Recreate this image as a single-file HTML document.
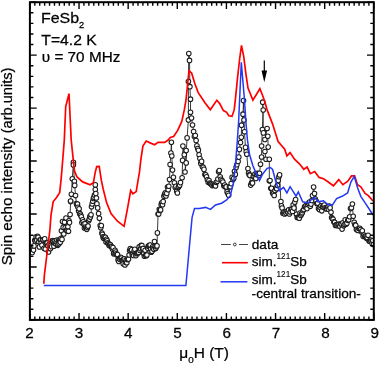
<!DOCTYPE html>
<html><head><meta charset="utf-8"><title>FeSb2 spin echo</title><style>html,body{margin:0;padding:0;background:#fff}body{width:379px;height:365px;overflow:hidden}</style></head><body>
<svg width="379" height="365" viewBox="0 0 379 365" style="display:block">
<rect width="379" height="365" fill="#fff"/>
<defs><clipPath id="cp"><rect x="29.9" y="2.2" width="343.90000000000003" height="317.7"/></clipPath></defs>
<g clip-path="url(#cp)">
<polyline points="30.8,247.5 31.5,247.2 32.2,252.6 32.9,248.9 33.5,250.1 34.0,245.9 34.7,240.3 35.4,241.1 36.1,236.7 36.8,240.3 37.5,236.2 38.1,237.2 38.8,241.7 39.4,246.9 40.0,239.8 40.6,239.7 41.2,242.9 41.9,245.3 42.5,239.9 43.2,239.8 44.0,248.3 44.7,238.9 45.3,249.0 46.0,243.6 46.6,242.6 47.2,243.0 47.9,245.7 48.5,252.0 49.2,244.4 49.8,248.4 50.5,248.6 51.0,245.2 51.6,246.7 52.2,240.9 52.7,240.5 53.3,241.5 53.9,246.2 54.4,242.8 55.0,240.9 55.6,243.7 56.3,242.0 57.0,240.0 57.6,245.3 58.1,244.4 58.7,240.3 59.2,243.6 59.8,240.9 60.3,242.2 60.9,238.6 61.4,230.7 62.0,239.4 62.5,221.5 63.2,227.4 63.8,234.0 64.5,222.2 65.2,227.8 66.0,218.0 66.6,229.7 67.2,230.8 67.9,226.8 68.5,231.3 69.0,220.7 69.5,222.6 70.1,214.5 70.6,201.6 70.6,201.0 71.4,194.2 72.3,178.8 73.4,162.4 73.4,164.9 74.4,181.3 74.7,185.4 75.5,195.5 76.4,203.5 76.9,204.9 77.5,204.0 78.0,207.2 78.6,211.1 79.1,208.8 79.7,213.7 80.2,213.7 80.8,215.3 81.3,216.8 81.9,222.7 82.5,219.8 83.2,221.8 83.8,224.0 84.4,228.1 85.0,223.7 85.6,227.1 86.2,228.6 86.8,229.3 87.5,227.4 88.1,226.1 88.7,220.7 89.3,219.2 89.9,216.4 90.4,217.1 91.0,214.8 91.5,206.7 92.2,203.9 92.8,201.2 93.4,198.4 93.9,197.2 94.5,195.1 95.3,184.9 95.3,189.5 95.8,193.6 96.4,198.0 96.9,203.9 97.7,207.9 98.6,213.6 99.4,218.2 100.2,225.5 100.8,227.8 101.3,225.6 101.9,233.0 102.4,234.2 103.0,236.7 103.5,238.2 104.1,236.7 104.8,238.0 105.4,237.3 106.0,242.0 106.6,239.4 107.2,240.7 107.8,242.9 108.4,243.8 109.1,245.6 109.7,244.4 110.4,244.7 111.0,246.3 111.7,246.7 112.4,249.1 113.0,247.5 113.7,253.8 114.3,252.7 115.0,250.3 115.6,252.1 116.2,253.8 116.9,255.0 117.5,254.5 118.1,259.9 118.8,261.5 119.4,258.7 120.1,259.4 120.7,257.4 121.4,258.1 122.0,260.4 122.6,260.0 123.2,263.8 123.8,259.5 124.4,258.7 125.0,265.0 125.6,262.3 126.2,259.9 126.8,262.7 127.4,259.4 128.0,259.4 128.5,259.1 129.1,255.0 129.6,250.6 130.3,248.6 130.9,250.2 131.6,249.7 132.2,254.6 132.9,254.0 133.5,255.5 134.2,250.9 134.8,249.2 135.4,254.3 136.0,255.6 136.7,253.7 137.3,252.7 138.0,253.1 138.6,252.4 139.2,246.9 139.9,250.4 140.6,248.8 141.2,245.3 141.9,245.6 142.5,248.6 143.2,248.6 143.8,253.7 144.4,256.3 145.1,250.3 145.7,255.5 146.3,255.7 146.9,255.0 147.6,248.1 148.2,246.2 148.8,245.9 149.5,245.3 150.1,245.0 150.7,249.4 151.3,252.2 152.0,251.2 152.6,246.9 153.2,248.3 153.9,249.3 154.5,241.5 155.1,246.8 155.7,248.5 156.4,246.8 157.0,245.9 157.4,232.9 158.1,214.0 158.7,214.0 159.3,209.2 159.9,210.4 160.6,209.9 161.2,204.4 161.8,202.8 162.5,204.7 163.2,201.6 163.9,196.3 164.6,194.4 165.3,192.9 166.0,195.9 166.8,193.4 167.5,187.1 168.2,189.7 168.8,186.2 169.5,179.5 170.1,164.5 170.9,153.0 171.4,142.3 171.8,156.0 172.5,170.0 173.4,177.3 174.4,182.8 175.2,187.5 175.9,186.3 176.7,191.2 177.4,193.0 178.2,187.5 178.9,186.4 179.7,185.3 180.5,182.6 182.1,177.7 182.6,160.4 182.9,146.1 184.3,154.7 186.2,150.5 186.2,162.9 185.0,172.0 187.1,137.9 188.4,119.9 188.4,81.6 188.8,53.6 189.5,60.4 189.9,86.7 190.5,99.2 190.5,112.3 191.5,118.0 192.5,125.0 193.6,131.6 194.4,136.6 195.3,135.5 196.1,140.5 196.9,145.9 197.7,148.5 198.4,150.3 199.1,154.8 199.9,158.5 200.8,163.4 201.6,161.4 202.4,166.8 203.2,167.2 204.0,169.4 204.9,174.6 205.7,174.8 206.5,176.7 207.4,179.7 208.2,182.3 209.0,180.6 209.8,183.1 210.6,183.7 211.4,184.1 212.2,185.6 213.1,184.3 213.9,185.2 214.7,185.2 215.5,186.0 216.4,182.3 217.2,181.3 217.9,179.0 218.6,171.7 219.3,170.5 220.2,176.7 221.0,179.3 222.1,180.5 222.9,182.0 223.8,185.8 224.6,185.0 225.4,187.1 226.2,186.9 227.1,191.9 227.9,193.6 228.7,195.3 229.5,186.7 230.3,186.7 231.2,183.6 232.1,177.4 233.0,179.5 233.8,178.2 234.5,171.4 235.3,174.4 236.1,167.4 236.9,164.7 238.1,161.4 238.8,157.1 239.4,149.4 240.5,142.5 241.3,137.3 241.5,125.2 243.0,114.2 243.5,100.6 244.0,120.0 244.5,131.8 245.5,147.4 246.2,151.8 246.8,154.2 247.9,168.6 248.6,173.0 249.2,174.8 249.9,175.4 250.7,185.1 251.6,182.9 252.5,183.1 253.3,176.4 254.2,176.5 255.0,174.0 255.8,178.4 256.5,174.6 257.3,173.2 258.0,173.6 258.8,175.4 259.5,173.3 260.5,164.2 261.6,157.0 261.6,146.0 262.4,129.6 263.2,110.0 262.7,102.2 263.4,132.9 267.1,128.5 264.9,139.5 267.8,136.2 268.2,147.1 264.9,151.5 266.0,159.2 269.3,159.2 269.3,180.8 270.0,180.5 270.8,188.3 271.5,188.2 272.6,192.9 273.4,193.7 274.2,195.5 275.0,190.5 275.8,187.9 276.7,188.8 277.5,185.3 278.2,180.4 278.9,176.7 279.6,174.9 280.9,201.6 281.4,205.9 282.1,208.0 282.9,213.2 283.6,212.3 284.5,213.9 285.3,212.0 286.1,213.3 287.0,211.3 287.8,212.2 288.6,209.9 289.4,213.9 290.2,212.0 291.0,209.0 291.8,209.6 292.5,211.4 293.2,204.7 294.0,208.1 294.8,202.3 295.6,199.5 296.5,214.2 297.2,217.5 297.9,217.2 298.6,217.3 299.3,218.2 300.0,213.0 300.8,215.5 301.5,214.0 302.3,212.8 303.0,210.6 303.8,209.5 304.6,206.7 305.4,206.3 306.2,205.0 307.0,208.6 307.8,204.6 308.6,203.3 309.5,202.0 310.3,206.3 311.0,204.1 311.8,200.5 312.5,195.6 313.6,187.1 314.5,193.6 315.2,198.7 316.0,200.7 316.8,203.5 317.7,203.2 318.5,208.6 319.4,209.6 320.2,207.6 321.0,205.8 321.8,210.8 322.6,206.6 323.4,207.2 324.2,205.0 325.0,207.7 325.9,208.5 326.7,208.9 327.6,207.0 328.4,209.2 329.2,206.1 330.1,207.9 331.0,212.3 331.6,217.6 332.3,218.5 333.1,219.2 333.9,221.9 334.7,222.2 335.5,225.4 336.4,224.5 337.2,225.6 338.1,224.5 339.0,224.4 339.8,226.2 340.6,223.7 341.3,224.0 342.1,229.1 342.9,222.8 343.7,225.8 344.4,224.5 345.2,219.8 346.0,224.2 346.9,223.3 347.8,220.3 348.7,219.7 349.6,216.7 350.5,208.6 351.4,207.7 352.4,204.0 353.2,216.2 354.2,222.4 354.9,224.8 355.7,225.4 356.4,229.6 357.2,229.3 358.0,230.5 358.9,228.5 359.7,228.3 360.6,229.6 361.4,231.8 362.3,230.8 363.1,236.3 364.0,235.1 364.8,236.3 365.6,237.1 366.5,238.3 367.3,237.8 368.1,235.2 369.0,241.0 369.8,241.2 370.6,240.1 371.3,241.4 372.1,243.4 372.8,240.5 373.5,244.5" fill="none" stroke="#222" stroke-width="0.9" stroke-linejoin="round"/>
<g fill="#fff" stroke="#1c1c1c" stroke-width="1.05">
<circle cx="30.8" cy="247.5" r="2.3"/>
<circle cx="31.5" cy="247.2" r="2.3"/>
<circle cx="32.2" cy="252.6" r="2.3"/>
<circle cx="32.9" cy="248.9" r="2.3"/>
<circle cx="33.5" cy="250.1" r="2.3"/>
<circle cx="34.0" cy="245.9" r="2.3"/>
<circle cx="34.7" cy="240.3" r="2.3"/>
<circle cx="35.4" cy="241.1" r="2.3"/>
<circle cx="36.1" cy="236.7" r="2.3"/>
<circle cx="36.8" cy="240.3" r="2.3"/>
<circle cx="37.5" cy="236.2" r="2.3"/>
<circle cx="38.1" cy="237.2" r="2.3"/>
<circle cx="38.8" cy="241.7" r="2.3"/>
<circle cx="39.4" cy="246.9" r="2.3"/>
<circle cx="40.0" cy="239.8" r="2.3"/>
<circle cx="40.6" cy="239.7" r="2.3"/>
<circle cx="41.2" cy="242.9" r="2.3"/>
<circle cx="41.9" cy="245.3" r="2.3"/>
<circle cx="42.5" cy="239.9" r="2.3"/>
<circle cx="43.2" cy="239.8" r="2.3"/>
<circle cx="44.0" cy="248.3" r="2.3"/>
<circle cx="44.7" cy="238.9" r="2.3"/>
<circle cx="45.3" cy="249.0" r="2.3"/>
<circle cx="46.0" cy="243.6" r="2.3"/>
<circle cx="46.6" cy="242.6" r="2.3"/>
<circle cx="47.2" cy="243.0" r="2.3"/>
<circle cx="47.9" cy="245.7" r="2.3"/>
<circle cx="48.5" cy="252.0" r="2.3"/>
<circle cx="49.2" cy="244.4" r="2.3"/>
<circle cx="49.8" cy="248.4" r="2.3"/>
<circle cx="50.5" cy="248.6" r="2.3"/>
<circle cx="51.0" cy="245.2" r="2.3"/>
<circle cx="51.6" cy="246.7" r="2.3"/>
<circle cx="52.2" cy="240.9" r="2.3"/>
<circle cx="52.7" cy="240.5" r="2.3"/>
<circle cx="53.3" cy="241.5" r="2.3"/>
<circle cx="53.9" cy="246.2" r="2.3"/>
<circle cx="54.4" cy="242.8" r="2.3"/>
<circle cx="55.0" cy="240.9" r="2.3"/>
<circle cx="55.6" cy="243.7" r="2.3"/>
<circle cx="56.3" cy="242.0" r="2.3"/>
<circle cx="57.0" cy="240.0" r="2.3"/>
<circle cx="57.6" cy="245.3" r="2.3"/>
<circle cx="58.1" cy="244.4" r="2.3"/>
<circle cx="58.7" cy="240.3" r="2.3"/>
<circle cx="59.2" cy="243.6" r="2.3"/>
<circle cx="59.8" cy="240.9" r="2.3"/>
<circle cx="60.3" cy="242.2" r="2.3"/>
<circle cx="60.9" cy="238.6" r="2.3"/>
<circle cx="61.4" cy="230.7" r="2.3"/>
<circle cx="62.0" cy="239.4" r="2.3"/>
<circle cx="62.5" cy="221.5" r="2.3"/>
<circle cx="63.2" cy="227.4" r="2.3"/>
<circle cx="63.8" cy="234.0" r="2.3"/>
<circle cx="64.5" cy="222.2" r="2.3"/>
<circle cx="65.2" cy="227.8" r="2.3"/>
<circle cx="66.0" cy="218.0" r="2.3"/>
<circle cx="66.6" cy="229.7" r="2.3"/>
<circle cx="67.2" cy="230.8" r="2.3"/>
<circle cx="67.9" cy="226.8" r="2.3"/>
<circle cx="68.5" cy="231.3" r="2.3"/>
<circle cx="69.0" cy="220.7" r="2.3"/>
<circle cx="69.5" cy="222.6" r="2.3"/>
<circle cx="70.1" cy="214.5" r="2.3"/>
<circle cx="70.6" cy="201.6" r="2.3"/>
<circle cx="70.6" cy="201.0" r="2.3"/>
<circle cx="71.4" cy="194.2" r="2.3"/>
<circle cx="72.3" cy="178.8" r="2.3"/>
<circle cx="73.4" cy="162.4" r="2.3"/>
<circle cx="73.4" cy="164.9" r="2.3"/>
<circle cx="74.4" cy="181.3" r="2.3"/>
<circle cx="74.7" cy="185.4" r="2.3"/>
<circle cx="75.5" cy="195.5" r="2.3"/>
<circle cx="76.4" cy="203.5" r="2.3"/>
<circle cx="76.9" cy="204.9" r="2.3"/>
<circle cx="77.5" cy="204.0" r="2.3"/>
<circle cx="78.0" cy="207.2" r="2.3"/>
<circle cx="78.6" cy="211.1" r="2.3"/>
<circle cx="79.1" cy="208.8" r="2.3"/>
<circle cx="79.7" cy="213.7" r="2.3"/>
<circle cx="80.2" cy="213.7" r="2.3"/>
<circle cx="80.8" cy="215.3" r="2.3"/>
<circle cx="81.3" cy="216.8" r="2.3"/>
<circle cx="81.9" cy="222.7" r="2.3"/>
<circle cx="82.5" cy="219.8" r="2.3"/>
<circle cx="83.2" cy="221.8" r="2.3"/>
<circle cx="83.8" cy="224.0" r="2.3"/>
<circle cx="84.4" cy="228.1" r="2.3"/>
<circle cx="85.0" cy="223.7" r="2.3"/>
<circle cx="85.6" cy="227.1" r="2.3"/>
<circle cx="86.2" cy="228.6" r="2.3"/>
<circle cx="86.8" cy="229.3" r="2.3"/>
<circle cx="87.5" cy="227.4" r="2.3"/>
<circle cx="88.1" cy="226.1" r="2.3"/>
<circle cx="88.7" cy="220.7" r="2.3"/>
<circle cx="89.3" cy="219.2" r="2.3"/>
<circle cx="89.9" cy="216.4" r="2.3"/>
<circle cx="90.4" cy="217.1" r="2.3"/>
<circle cx="91.0" cy="214.8" r="2.3"/>
<circle cx="91.5" cy="206.7" r="2.3"/>
<circle cx="92.2" cy="203.9" r="2.3"/>
<circle cx="92.8" cy="201.2" r="2.3"/>
<circle cx="93.4" cy="198.4" r="2.3"/>
<circle cx="93.9" cy="197.2" r="2.3"/>
<circle cx="94.5" cy="195.1" r="2.3"/>
<circle cx="95.3" cy="184.9" r="2.3"/>
<circle cx="95.3" cy="189.5" r="2.3"/>
<circle cx="95.8" cy="193.6" r="2.3"/>
<circle cx="96.4" cy="198.0" r="2.3"/>
<circle cx="96.9" cy="203.9" r="2.3"/>
<circle cx="97.7" cy="207.9" r="2.3"/>
<circle cx="98.6" cy="213.6" r="2.3"/>
<circle cx="99.4" cy="218.2" r="2.3"/>
<circle cx="100.2" cy="225.5" r="2.3"/>
<circle cx="100.8" cy="227.8" r="2.3"/>
<circle cx="101.3" cy="225.6" r="2.3"/>
<circle cx="101.9" cy="233.0" r="2.3"/>
<circle cx="102.4" cy="234.2" r="2.3"/>
<circle cx="103.0" cy="236.7" r="2.3"/>
<circle cx="103.5" cy="238.2" r="2.3"/>
<circle cx="104.1" cy="236.7" r="2.3"/>
<circle cx="104.8" cy="238.0" r="2.3"/>
<circle cx="105.4" cy="237.3" r="2.3"/>
<circle cx="106.0" cy="242.0" r="2.3"/>
<circle cx="106.6" cy="239.4" r="2.3"/>
<circle cx="107.2" cy="240.7" r="2.3"/>
<circle cx="107.8" cy="242.9" r="2.3"/>
<circle cx="108.4" cy="243.8" r="2.3"/>
<circle cx="109.1" cy="245.6" r="2.3"/>
<circle cx="109.7" cy="244.4" r="2.3"/>
<circle cx="110.4" cy="244.7" r="2.3"/>
<circle cx="111.0" cy="246.3" r="2.3"/>
<circle cx="111.7" cy="246.7" r="2.3"/>
<circle cx="112.4" cy="249.1" r="2.3"/>
<circle cx="113.0" cy="247.5" r="2.3"/>
<circle cx="113.7" cy="253.8" r="2.3"/>
<circle cx="114.3" cy="252.7" r="2.3"/>
<circle cx="115.0" cy="250.3" r="2.3"/>
<circle cx="115.6" cy="252.1" r="2.3"/>
<circle cx="116.2" cy="253.8" r="2.3"/>
<circle cx="116.9" cy="255.0" r="2.3"/>
<circle cx="117.5" cy="254.5" r="2.3"/>
<circle cx="118.1" cy="259.9" r="2.3"/>
<circle cx="118.8" cy="261.5" r="2.3"/>
<circle cx="119.4" cy="258.7" r="2.3"/>
<circle cx="120.1" cy="259.4" r="2.3"/>
<circle cx="120.7" cy="257.4" r="2.3"/>
<circle cx="121.4" cy="258.1" r="2.3"/>
<circle cx="122.0" cy="260.4" r="2.3"/>
<circle cx="122.6" cy="260.0" r="2.3"/>
<circle cx="123.2" cy="263.8" r="2.3"/>
<circle cx="123.8" cy="259.5" r="2.3"/>
<circle cx="124.4" cy="258.7" r="2.3"/>
<circle cx="125.0" cy="265.0" r="2.3"/>
<circle cx="125.6" cy="262.3" r="2.3"/>
<circle cx="126.2" cy="259.9" r="2.3"/>
<circle cx="126.8" cy="262.7" r="2.3"/>
<circle cx="127.4" cy="259.4" r="2.3"/>
<circle cx="128.0" cy="259.4" r="2.3"/>
<circle cx="128.5" cy="259.1" r="2.3"/>
<circle cx="129.1" cy="255.0" r="2.3"/>
<circle cx="129.6" cy="250.6" r="2.3"/>
<circle cx="130.3" cy="248.6" r="2.3"/>
<circle cx="130.9" cy="250.2" r="2.3"/>
<circle cx="131.6" cy="249.7" r="2.3"/>
<circle cx="132.2" cy="254.6" r="2.3"/>
<circle cx="132.9" cy="254.0" r="2.3"/>
<circle cx="133.5" cy="255.5" r="2.3"/>
<circle cx="134.2" cy="250.9" r="2.3"/>
<circle cx="134.8" cy="249.2" r="2.3"/>
<circle cx="135.4" cy="254.3" r="2.3"/>
<circle cx="136.0" cy="255.6" r="2.3"/>
<circle cx="136.7" cy="253.7" r="2.3"/>
<circle cx="137.3" cy="252.7" r="2.3"/>
<circle cx="138.0" cy="253.1" r="2.3"/>
<circle cx="138.6" cy="252.4" r="2.3"/>
<circle cx="139.2" cy="246.9" r="2.3"/>
<circle cx="139.9" cy="250.4" r="2.3"/>
<circle cx="140.6" cy="248.8" r="2.3"/>
<circle cx="141.2" cy="245.3" r="2.3"/>
<circle cx="141.9" cy="245.6" r="2.3"/>
<circle cx="142.5" cy="248.6" r="2.3"/>
<circle cx="143.2" cy="248.6" r="2.3"/>
<circle cx="143.8" cy="253.7" r="2.3"/>
<circle cx="144.4" cy="256.3" r="2.3"/>
<circle cx="145.1" cy="250.3" r="2.3"/>
<circle cx="145.7" cy="255.5" r="2.3"/>
<circle cx="146.3" cy="255.7" r="2.3"/>
<circle cx="146.9" cy="255.0" r="2.3"/>
<circle cx="147.6" cy="248.1" r="2.3"/>
<circle cx="148.2" cy="246.2" r="2.3"/>
<circle cx="148.8" cy="245.9" r="2.3"/>
<circle cx="149.5" cy="245.3" r="2.3"/>
<circle cx="150.1" cy="245.0" r="2.3"/>
<circle cx="150.7" cy="249.4" r="2.3"/>
<circle cx="151.3" cy="252.2" r="2.3"/>
<circle cx="152.0" cy="251.2" r="2.3"/>
<circle cx="152.6" cy="246.9" r="2.3"/>
<circle cx="153.2" cy="248.3" r="2.3"/>
<circle cx="153.9" cy="249.3" r="2.3"/>
<circle cx="154.5" cy="241.5" r="2.3"/>
<circle cx="155.1" cy="246.8" r="2.3"/>
<circle cx="155.7" cy="248.5" r="2.3"/>
<circle cx="156.4" cy="246.8" r="2.3"/>
<circle cx="157.0" cy="245.9" r="2.3"/>
<circle cx="157.4" cy="232.9" r="2.3"/>
<circle cx="158.1" cy="214.0" r="2.3"/>
<circle cx="158.7" cy="214.0" r="2.3"/>
<circle cx="159.3" cy="209.2" r="2.3"/>
<circle cx="159.9" cy="210.4" r="2.3"/>
<circle cx="160.6" cy="209.9" r="2.3"/>
<circle cx="161.2" cy="204.4" r="2.3"/>
<circle cx="161.8" cy="202.8" r="2.3"/>
<circle cx="162.5" cy="204.7" r="2.3"/>
<circle cx="163.2" cy="201.6" r="2.3"/>
<circle cx="163.9" cy="196.3" r="2.3"/>
<circle cx="164.6" cy="194.4" r="2.3"/>
<circle cx="165.3" cy="192.9" r="2.3"/>
<circle cx="166.0" cy="195.9" r="2.3"/>
<circle cx="166.8" cy="193.4" r="2.3"/>
<circle cx="167.5" cy="187.1" r="2.3"/>
<circle cx="168.2" cy="189.7" r="2.3"/>
<circle cx="168.8" cy="186.2" r="2.3"/>
<circle cx="169.5" cy="179.5" r="2.3"/>
<circle cx="170.1" cy="164.5" r="2.3"/>
<circle cx="170.9" cy="153.0" r="2.3"/>
<circle cx="171.4" cy="142.3" r="2.3"/>
<circle cx="171.8" cy="156.0" r="2.3"/>
<circle cx="172.5" cy="170.0" r="2.3"/>
<circle cx="173.4" cy="177.3" r="2.3"/>
<circle cx="174.4" cy="182.8" r="2.3"/>
<circle cx="175.2" cy="187.5" r="2.3"/>
<circle cx="175.9" cy="186.3" r="2.3"/>
<circle cx="176.7" cy="191.2" r="2.3"/>
<circle cx="177.4" cy="193.0" r="2.3"/>
<circle cx="178.2" cy="187.5" r="2.3"/>
<circle cx="178.9" cy="186.4" r="2.3"/>
<circle cx="179.7" cy="185.3" r="2.3"/>
<circle cx="180.5" cy="182.6" r="2.3"/>
<circle cx="182.1" cy="177.7" r="2.3"/>
<circle cx="182.6" cy="160.4" r="2.3"/>
<circle cx="182.9" cy="146.1" r="2.3"/>
<circle cx="184.3" cy="154.7" r="2.3"/>
<circle cx="186.2" cy="150.5" r="2.3"/>
<circle cx="186.2" cy="162.9" r="2.3"/>
<circle cx="185.0" cy="172.0" r="2.3"/>
<circle cx="187.1" cy="137.9" r="2.3"/>
<circle cx="188.4" cy="119.9" r="2.3"/>
<circle cx="188.4" cy="81.6" r="2.3"/>
<circle cx="188.8" cy="53.6" r="2.3"/>
<circle cx="189.5" cy="60.4" r="2.3"/>
<circle cx="189.9" cy="86.7" r="2.3"/>
<circle cx="190.5" cy="99.2" r="2.3"/>
<circle cx="190.5" cy="112.3" r="2.3"/>
<circle cx="191.5" cy="118.0" r="2.3"/>
<circle cx="192.5" cy="125.0" r="2.3"/>
<circle cx="193.6" cy="131.6" r="2.3"/>
<circle cx="194.4" cy="136.6" r="2.3"/>
<circle cx="195.3" cy="135.5" r="2.3"/>
<circle cx="196.1" cy="140.5" r="2.3"/>
<circle cx="196.9" cy="145.9" r="2.3"/>
<circle cx="197.7" cy="148.5" r="2.3"/>
<circle cx="198.4" cy="150.3" r="2.3"/>
<circle cx="199.1" cy="154.8" r="2.3"/>
<circle cx="199.9" cy="158.5" r="2.3"/>
<circle cx="200.8" cy="163.4" r="2.3"/>
<circle cx="201.6" cy="161.4" r="2.3"/>
<circle cx="202.4" cy="166.8" r="2.3"/>
<circle cx="203.2" cy="167.2" r="2.3"/>
<circle cx="204.0" cy="169.4" r="2.3"/>
<circle cx="204.9" cy="174.6" r="2.3"/>
<circle cx="205.7" cy="174.8" r="2.3"/>
<circle cx="206.5" cy="176.7" r="2.3"/>
<circle cx="207.4" cy="179.7" r="2.3"/>
<circle cx="208.2" cy="182.3" r="2.3"/>
<circle cx="209.0" cy="180.6" r="2.3"/>
<circle cx="209.8" cy="183.1" r="2.3"/>
<circle cx="210.6" cy="183.7" r="2.3"/>
<circle cx="211.4" cy="184.1" r="2.3"/>
<circle cx="212.2" cy="185.6" r="2.3"/>
<circle cx="213.1" cy="184.3" r="2.3"/>
<circle cx="213.9" cy="185.2" r="2.3"/>
<circle cx="214.7" cy="185.2" r="2.3"/>
<circle cx="215.5" cy="186.0" r="2.3"/>
<circle cx="216.4" cy="182.3" r="2.3"/>
<circle cx="217.2" cy="181.3" r="2.3"/>
<circle cx="217.9" cy="179.0" r="2.3"/>
<circle cx="218.6" cy="171.7" r="2.3"/>
<circle cx="219.3" cy="170.5" r="2.3"/>
<circle cx="220.2" cy="176.7" r="2.3"/>
<circle cx="221.0" cy="179.3" r="2.3"/>
<circle cx="222.1" cy="180.5" r="2.3"/>
<circle cx="222.9" cy="182.0" r="2.3"/>
<circle cx="223.8" cy="185.8" r="2.3"/>
<circle cx="224.6" cy="185.0" r="2.3"/>
<circle cx="225.4" cy="187.1" r="2.3"/>
<circle cx="226.2" cy="186.9" r="2.3"/>
<circle cx="227.1" cy="191.9" r="2.3"/>
<circle cx="227.9" cy="193.6" r="2.3"/>
<circle cx="228.7" cy="195.3" r="2.3"/>
<circle cx="229.5" cy="186.7" r="2.3"/>
<circle cx="230.3" cy="186.7" r="2.3"/>
<circle cx="231.2" cy="183.6" r="2.3"/>
<circle cx="232.1" cy="177.4" r="2.3"/>
<circle cx="233.0" cy="179.5" r="2.3"/>
<circle cx="233.8" cy="178.2" r="2.3"/>
<circle cx="234.5" cy="171.4" r="2.3"/>
<circle cx="235.3" cy="174.4" r="2.3"/>
<circle cx="236.1" cy="167.4" r="2.3"/>
<circle cx="236.9" cy="164.7" r="2.3"/>
<circle cx="238.1" cy="161.4" r="2.3"/>
<circle cx="238.8" cy="157.1" r="2.3"/>
<circle cx="239.4" cy="149.4" r="2.3"/>
<circle cx="240.5" cy="142.5" r="2.3"/>
<circle cx="241.3" cy="137.3" r="2.3"/>
<circle cx="241.5" cy="125.2" r="2.3"/>
<circle cx="243.0" cy="114.2" r="2.3"/>
<circle cx="243.5" cy="100.6" r="2.3"/>
<circle cx="244.0" cy="120.0" r="2.3"/>
<circle cx="244.5" cy="131.8" r="2.3"/>
<circle cx="245.5" cy="147.4" r="2.3"/>
<circle cx="246.2" cy="151.8" r="2.3"/>
<circle cx="246.8" cy="154.2" r="2.3"/>
<circle cx="247.9" cy="168.6" r="2.3"/>
<circle cx="248.6" cy="173.0" r="2.3"/>
<circle cx="249.2" cy="174.8" r="2.3"/>
<circle cx="249.9" cy="175.4" r="2.3"/>
<circle cx="250.7" cy="185.1" r="2.3"/>
<circle cx="251.6" cy="182.9" r="2.3"/>
<circle cx="252.5" cy="183.1" r="2.3"/>
<circle cx="253.3" cy="176.4" r="2.3"/>
<circle cx="254.2" cy="176.5" r="2.3"/>
<circle cx="255.0" cy="174.0" r="2.3"/>
<circle cx="255.8" cy="178.4" r="2.3"/>
<circle cx="256.5" cy="174.6" r="2.3"/>
<circle cx="257.3" cy="173.2" r="2.3"/>
<circle cx="258.0" cy="173.6" r="2.3"/>
<circle cx="258.8" cy="175.4" r="2.3"/>
<circle cx="259.5" cy="173.3" r="2.3"/>
<circle cx="260.5" cy="164.2" r="2.3"/>
<circle cx="261.6" cy="157.0" r="2.3"/>
<circle cx="261.6" cy="146.0" r="2.3"/>
<circle cx="262.4" cy="129.6" r="2.3"/>
<circle cx="263.2" cy="110.0" r="2.3"/>
<circle cx="262.7" cy="102.2" r="2.3"/>
<circle cx="263.4" cy="132.9" r="2.3"/>
<circle cx="267.1" cy="128.5" r="2.3"/>
<circle cx="264.9" cy="139.5" r="2.3"/>
<circle cx="267.8" cy="136.2" r="2.3"/>
<circle cx="268.2" cy="147.1" r="2.3"/>
<circle cx="264.9" cy="151.5" r="2.3"/>
<circle cx="266.0" cy="159.2" r="2.3"/>
<circle cx="269.3" cy="159.2" r="2.3"/>
<circle cx="269.3" cy="180.8" r="2.3"/>
<circle cx="270.0" cy="180.5" r="2.3"/>
<circle cx="270.8" cy="188.3" r="2.3"/>
<circle cx="271.5" cy="188.2" r="2.3"/>
<circle cx="272.6" cy="192.9" r="2.3"/>
<circle cx="273.4" cy="193.7" r="2.3"/>
<circle cx="274.2" cy="195.5" r="2.3"/>
<circle cx="275.0" cy="190.5" r="2.3"/>
<circle cx="275.8" cy="187.9" r="2.3"/>
<circle cx="276.7" cy="188.8" r="2.3"/>
<circle cx="277.5" cy="185.3" r="2.3"/>
<circle cx="278.2" cy="180.4" r="2.3"/>
<circle cx="278.9" cy="176.7" r="2.3"/>
<circle cx="279.6" cy="174.9" r="2.3"/>
<circle cx="280.9" cy="201.6" r="2.3"/>
<circle cx="281.4" cy="205.9" r="2.3"/>
<circle cx="282.1" cy="208.0" r="2.3"/>
<circle cx="282.9" cy="213.2" r="2.3"/>
<circle cx="283.6" cy="212.3" r="2.3"/>
<circle cx="284.5" cy="213.9" r="2.3"/>
<circle cx="285.3" cy="212.0" r="2.3"/>
<circle cx="286.1" cy="213.3" r="2.3"/>
<circle cx="287.0" cy="211.3" r="2.3"/>
<circle cx="287.8" cy="212.2" r="2.3"/>
<circle cx="288.6" cy="209.9" r="2.3"/>
<circle cx="289.4" cy="213.9" r="2.3"/>
<circle cx="290.2" cy="212.0" r="2.3"/>
<circle cx="291.0" cy="209.0" r="2.3"/>
<circle cx="291.8" cy="209.6" r="2.3"/>
<circle cx="292.5" cy="211.4" r="2.3"/>
<circle cx="293.2" cy="204.7" r="2.3"/>
<circle cx="294.0" cy="208.1" r="2.3"/>
<circle cx="294.8" cy="202.3" r="2.3"/>
<circle cx="295.6" cy="199.5" r="2.3"/>
<circle cx="296.5" cy="214.2" r="2.3"/>
<circle cx="297.2" cy="217.5" r="2.3"/>
<circle cx="297.9" cy="217.2" r="2.3"/>
<circle cx="298.6" cy="217.3" r="2.3"/>
<circle cx="299.3" cy="218.2" r="2.3"/>
<circle cx="300.0" cy="213.0" r="2.3"/>
<circle cx="300.8" cy="215.5" r="2.3"/>
<circle cx="301.5" cy="214.0" r="2.3"/>
<circle cx="302.3" cy="212.8" r="2.3"/>
<circle cx="303.0" cy="210.6" r="2.3"/>
<circle cx="303.8" cy="209.5" r="2.3"/>
<circle cx="304.6" cy="206.7" r="2.3"/>
<circle cx="305.4" cy="206.3" r="2.3"/>
<circle cx="306.2" cy="205.0" r="2.3"/>
<circle cx="307.0" cy="208.6" r="2.3"/>
<circle cx="307.8" cy="204.6" r="2.3"/>
<circle cx="308.6" cy="203.3" r="2.3"/>
<circle cx="309.5" cy="202.0" r="2.3"/>
<circle cx="310.3" cy="206.3" r="2.3"/>
<circle cx="311.0" cy="204.1" r="2.3"/>
<circle cx="311.8" cy="200.5" r="2.3"/>
<circle cx="312.5" cy="195.6" r="2.3"/>
<circle cx="313.6" cy="187.1" r="2.3"/>
<circle cx="314.5" cy="193.6" r="2.3"/>
<circle cx="315.2" cy="198.7" r="2.3"/>
<circle cx="316.0" cy="200.7" r="2.3"/>
<circle cx="316.8" cy="203.5" r="2.3"/>
<circle cx="317.7" cy="203.2" r="2.3"/>
<circle cx="318.5" cy="208.6" r="2.3"/>
<circle cx="319.4" cy="209.6" r="2.3"/>
<circle cx="320.2" cy="207.6" r="2.3"/>
<circle cx="321.0" cy="205.8" r="2.3"/>
<circle cx="321.8" cy="210.8" r="2.3"/>
<circle cx="322.6" cy="206.6" r="2.3"/>
<circle cx="323.4" cy="207.2" r="2.3"/>
<circle cx="324.2" cy="205.0" r="2.3"/>
<circle cx="325.0" cy="207.7" r="2.3"/>
<circle cx="325.9" cy="208.5" r="2.3"/>
<circle cx="326.7" cy="208.9" r="2.3"/>
<circle cx="327.6" cy="207.0" r="2.3"/>
<circle cx="328.4" cy="209.2" r="2.3"/>
<circle cx="329.2" cy="206.1" r="2.3"/>
<circle cx="330.1" cy="207.9" r="2.3"/>
<circle cx="331.0" cy="212.3" r="2.3"/>
<circle cx="331.6" cy="217.6" r="2.3"/>
<circle cx="332.3" cy="218.5" r="2.3"/>
<circle cx="333.1" cy="219.2" r="2.3"/>
<circle cx="333.9" cy="221.9" r="2.3"/>
<circle cx="334.7" cy="222.2" r="2.3"/>
<circle cx="335.5" cy="225.4" r="2.3"/>
<circle cx="336.4" cy="224.5" r="2.3"/>
<circle cx="337.2" cy="225.6" r="2.3"/>
<circle cx="338.1" cy="224.5" r="2.3"/>
<circle cx="339.0" cy="224.4" r="2.3"/>
<circle cx="339.8" cy="226.2" r="2.3"/>
<circle cx="340.6" cy="223.7" r="2.3"/>
<circle cx="341.3" cy="224.0" r="2.3"/>
<circle cx="342.1" cy="229.1" r="2.3"/>
<circle cx="342.9" cy="222.8" r="2.3"/>
<circle cx="343.7" cy="225.8" r="2.3"/>
<circle cx="344.4" cy="224.5" r="2.3"/>
<circle cx="345.2" cy="219.8" r="2.3"/>
<circle cx="346.0" cy="224.2" r="2.3"/>
<circle cx="346.9" cy="223.3" r="2.3"/>
<circle cx="347.8" cy="220.3" r="2.3"/>
<circle cx="348.7" cy="219.7" r="2.3"/>
<circle cx="349.6" cy="216.7" r="2.3"/>
<circle cx="350.5" cy="208.6" r="2.3"/>
<circle cx="351.4" cy="207.7" r="2.3"/>
<circle cx="352.4" cy="204.0" r="2.3"/>
<circle cx="353.2" cy="216.2" r="2.3"/>
<circle cx="354.2" cy="222.4" r="2.3"/>
<circle cx="354.9" cy="224.8" r="2.3"/>
<circle cx="355.7" cy="225.4" r="2.3"/>
<circle cx="356.4" cy="229.6" r="2.3"/>
<circle cx="357.2" cy="229.3" r="2.3"/>
<circle cx="358.0" cy="230.5" r="2.3"/>
<circle cx="358.9" cy="228.5" r="2.3"/>
<circle cx="359.7" cy="228.3" r="2.3"/>
<circle cx="360.6" cy="229.6" r="2.3"/>
<circle cx="361.4" cy="231.8" r="2.3"/>
<circle cx="362.3" cy="230.8" r="2.3"/>
<circle cx="363.1" cy="236.3" r="2.3"/>
<circle cx="364.0" cy="235.1" r="2.3"/>
<circle cx="364.8" cy="236.3" r="2.3"/>
<circle cx="365.6" cy="237.1" r="2.3"/>
<circle cx="366.5" cy="238.3" r="2.3"/>
<circle cx="367.3" cy="237.8" r="2.3"/>
<circle cx="368.1" cy="235.2" r="2.3"/>
<circle cx="369.0" cy="241.0" r="2.3"/>
<circle cx="369.8" cy="241.2" r="2.3"/>
<circle cx="370.6" cy="240.1" r="2.3"/>
<circle cx="371.3" cy="241.4" r="2.3"/>
<circle cx="372.1" cy="243.4" r="2.3"/>
<circle cx="372.8" cy="240.5" r="2.3"/>
<circle cx="373.5" cy="244.5" r="2.3"/>
</g>
<polyline points="43.8,283.7 44.4,275.0 49.9,230.0 51.0,215.0 53.2,201.5 56.0,198.2 59.7,192.6 61.4,176.2 63.0,156.4 64.3,140.0 65.7,106.7 69.0,93.6 71.2,140.0 72.9,156.4 74.5,171.2 77.0,177.0 82.7,181.9 90.1,184.7 93.4,182.7 95.1,172.9 96.7,166.6 99.2,166.4 101.4,180.7 103.3,189.5 106.6,202.6 111.0,213.6 117.5,221.2 124.1,226.3 127.4,209.2 130.7,190.5 132.9,193.8 136.2,191.6 139.5,171.9 140.8,160.0 142.9,146.0 146.2,141.1 150.6,143.1 154.7,144.7 158.0,142.4 164.6,142.4 167.9,140.3 170.3,137.5 173.6,136.5 177.7,130.4 181.8,121.4 184.3,109.9 186.0,100.0 189.0,70.7 191.6,72.9 194.9,83.8 198.2,92.6 204.8,102.5 210.3,109.7 216.8,100.3 219.7,103.6 223.4,110.6 226.7,112.3 228.8,115.8 232.0,116.4 234.2,109.9 235.3,100.1 237.5,78.2 239.7,58.5 241.5,45.3 243.7,56.3 245.9,73.8 248.0,88.0 252.9,100.1 259.9,88.7 262.7,95.8 264.9,102.0 267.1,109.9 272.6,124.1 278.1,141.6 284.7,149.3 286.9,155.9 290.1,152.6 294.5,159.2 299.4,163.8 303.8,169.3 307.1,167.1 310.3,173.7 314.7,171.5 319.1,177.4 323.5,178.7 327.9,181.8 333.4,185.8 338.8,179.6 342.8,184.7 347.6,181.4 351.5,175.9 354.6,175.9 357.5,184.7 360.8,186.8 365.1,193.4 368.4,195.6 373.0,201.0" fill="none" stroke="#ff0000" stroke-width="1.7" stroke-linejoin="miter" stroke-miterlimit="6"/>
<polyline points="43.8,285.5 185.9,285.5 189.6,244.4 192.1,217.3 194.5,208.6 199.4,208.6 205.6,207.4 210.5,209.4 215.5,205.0 221.6,203.2 226.6,200.0 230.3,196.0 232.0,188.5 233.6,182.9 235.3,166.4 237.1,143.8 238.6,121.9 241.3,62.4 244.5,100.0 245.9,121.9 247.4,139.5 249.6,154.8 252.9,165.8 256.2,173.4 259.5,180.5 262.7,174.0 267.1,168.4 270.4,167.5 272.6,169.5 275.9,181.9 279.2,190.7 283.6,187.4 286.9,192.9 290.1,186.7 293.4,191.8 296.0,196.2 298.3,191.9 302.7,201.8 308.2,202.9 311.4,199.6 314.7,197.4 318.0,201.8 323.5,200.7 327.9,204.6 332.3,205.1 336.6,198.5 342.1,196.3 347.6,193.0 350.9,182.1 354.2,176.3 357.5,187.5 360.8,196.3 365.1,202.9 369.5,209.5 373.0,215.0" fill="none" stroke="#2238f5" stroke-width="1.5" stroke-linejoin="miter" stroke-miterlimit="6"/>
</g>
<path d="M29.90,319.9v-6.8M29.90,2.2v6.8M34.81,319.9v-3.5M34.81,2.2v3.5M39.73,319.9v-3.5M39.73,2.2v3.5M44.64,319.9v-3.5M44.64,2.2v3.5M49.55,319.9v-3.5M49.55,2.2v3.5M54.47,319.9v-3.5M54.47,2.2v3.5M59.38,319.9v-3.5M59.38,2.2v3.5M64.29,319.9v-3.5M64.29,2.2v3.5M69.20,319.9v-3.5M69.20,2.2v3.5M74.12,319.9v-3.5M74.12,2.2v3.5M79.03,319.9v-6.8M79.03,2.2v6.8M83.94,319.9v-3.5M83.94,2.2v3.5M88.86,319.9v-3.5M88.86,2.2v3.5M93.77,319.9v-3.5M93.77,2.2v3.5M98.68,319.9v-3.5M98.68,2.2v3.5M103.59,319.9v-3.5M103.59,2.2v3.5M108.51,319.9v-3.5M108.51,2.2v3.5M113.42,319.9v-3.5M113.42,2.2v3.5M118.33,319.9v-3.5M118.33,2.2v3.5M123.25,319.9v-3.5M123.25,2.2v3.5M128.16,319.9v-6.8M128.16,2.2v6.8M133.07,319.9v-3.5M133.07,2.2v3.5M137.99,319.9v-3.5M137.99,2.2v3.5M142.90,319.9v-3.5M142.90,2.2v3.5M147.81,319.9v-3.5M147.81,2.2v3.5M152.72,319.9v-3.5M152.72,2.2v3.5M157.64,319.9v-3.5M157.64,2.2v3.5M162.55,319.9v-3.5M162.55,2.2v3.5M167.46,319.9v-3.5M167.46,2.2v3.5M172.38,319.9v-3.5M172.38,2.2v3.5M177.29,319.9v-6.8M177.29,2.2v6.8M182.20,319.9v-3.5M182.20,2.2v3.5M187.12,319.9v-3.5M187.12,2.2v3.5M192.03,319.9v-3.5M192.03,2.2v3.5M196.94,319.9v-3.5M196.94,2.2v3.5M201.86,319.9v-3.5M201.86,2.2v3.5M206.77,319.9v-3.5M206.77,2.2v3.5M211.68,319.9v-3.5M211.68,2.2v3.5M216.59,319.9v-3.5M216.59,2.2v3.5M221.51,319.9v-3.5M221.51,2.2v3.5M226.42,319.9v-6.8M226.42,2.2v6.8M231.33,319.9v-3.5M231.33,2.2v3.5M236.25,319.9v-3.5M236.25,2.2v3.5M241.16,319.9v-3.5M241.16,2.2v3.5M246.07,319.9v-3.5M246.07,2.2v3.5M250.99,319.9v-3.5M250.99,2.2v3.5M255.90,319.9v-3.5M255.90,2.2v3.5M260.81,319.9v-3.5M260.81,2.2v3.5M265.72,319.9v-3.5M265.72,2.2v3.5M270.64,319.9v-3.5M270.64,2.2v3.5M275.55,319.9v-6.8M275.55,2.2v6.8M280.46,319.9v-3.5M280.46,2.2v3.5M285.38,319.9v-3.5M285.38,2.2v3.5M290.29,319.9v-3.5M290.29,2.2v3.5M295.20,319.9v-3.5M295.20,2.2v3.5M300.12,319.9v-3.5M300.12,2.2v3.5M305.03,319.9v-3.5M305.03,2.2v3.5M309.94,319.9v-3.5M309.94,2.2v3.5M314.85,319.9v-3.5M314.85,2.2v3.5M319.77,319.9v-3.5M319.77,2.2v3.5M324.68,319.9v-6.8M324.68,2.2v6.8M329.59,319.9v-3.5M329.59,2.2v3.5M334.51,319.9v-3.5M334.51,2.2v3.5M339.42,319.9v-3.5M339.42,2.2v3.5M344.33,319.9v-3.5M344.33,2.2v3.5M349.25,319.9v-3.5M349.25,2.2v3.5M354.16,319.9v-3.5M354.16,2.2v3.5M359.07,319.9v-3.5M359.07,2.2v3.5M363.98,319.9v-3.5M363.98,2.2v3.5M368.90,319.9v-3.5M368.90,2.2v3.5M373.81,319.9v-6.8M373.81,2.2v6.8M29.9,319.90h6.8M373.8,319.90h-6.8M29.9,309.31h3.5M373.8,309.31h-3.5M29.9,298.72h3.5M373.8,298.72h-3.5M29.9,288.13h3.5M373.8,288.13h-3.5M29.9,277.54h3.5M373.8,277.54h-3.5M29.9,266.95h6.8M373.8,266.95h-6.8M29.9,256.36h3.5M373.8,256.36h-3.5M29.9,245.77h3.5M373.8,245.77h-3.5M29.9,235.18h3.5M373.8,235.18h-3.5M29.9,224.59h3.5M373.8,224.59h-3.5M29.9,214.00h6.8M373.8,214.00h-6.8M29.9,203.41h3.5M373.8,203.41h-3.5M29.9,192.82h3.5M373.8,192.82h-3.5M29.9,182.23h3.5M373.8,182.23h-3.5M29.9,171.64h3.5M373.8,171.64h-3.5M29.9,161.05h6.8M373.8,161.05h-6.8M29.9,150.46h3.5M373.8,150.46h-3.5M29.9,139.87h3.5M373.8,139.87h-3.5M29.9,129.28h3.5M373.8,129.28h-3.5M29.9,118.69h3.5M373.8,118.69h-3.5M29.9,108.10h6.8M373.8,108.10h-6.8M29.9,97.51h3.5M373.8,97.51h-3.5M29.9,86.92h3.5M373.8,86.92h-3.5M29.9,76.33h3.5M373.8,76.33h-3.5M29.9,65.74h3.5M373.8,65.74h-3.5M29.9,55.15h6.8M373.8,55.15h-6.8M29.9,44.56h3.5M373.8,44.56h-3.5M29.9,33.97h3.5M373.8,33.97h-3.5M29.9,23.38h3.5M373.8,23.38h-3.5M29.9,12.79h3.5M373.8,12.79h-3.5M29.9,2.20h6.8M373.8,2.20h-6.8" stroke="#000" stroke-width="1.4" fill="none"/>
<rect x="29.9" y="2.2" width="343.90" height="317.70" fill="none" stroke="#000" stroke-width="2"/>
<path d="M264.3,60.5V72" stroke="#000" stroke-width="1.2"/><path d="M261.5,70.5h5.6l-2.8,11.7z" fill="#000"/>
<g font-family="'Liberation Sans',Arial,Helvetica,sans-serif" fill="#000" stroke="#000" stroke-width="0.25">
<text transform="translate(29.6,337.8) scale(1.03,1)" font-size="14.8" text-anchor="middle">2</text>
<text transform="translate(78.9,337.8) scale(1.03,1)" font-size="14.8" text-anchor="middle">3</text>
<text transform="translate(128.2,337.8) scale(1.03,1)" font-size="14.8" text-anchor="middle">4</text>
<text transform="translate(177.5,337.8) scale(1.03,1)" font-size="14.8" text-anchor="middle">5</text>
<text transform="translate(226.8,337.8) scale(1.03,1)" font-size="14.8" text-anchor="middle">6</text>
<text transform="translate(276.1,337.8) scale(1.03,1)" font-size="14.8" text-anchor="middle">7</text>
<text transform="translate(325.4,337.8) scale(1.03,1)" font-size="14.8" text-anchor="middle">8</text>
<text transform="translate(374.7,337.8) scale(1.03,1)" font-size="14.8" text-anchor="middle">9</text>
<text transform="translate(179.2,358.2) scale(1.035,1)" font-size="15">μ<tspan font-size="9.6" dy="4.6">0</tspan><tspan dy="-4.6">H (T)</tspan></text>
<text transform="translate(12.4,265.3) rotate(-90)" font-size="15" textLength="127.7" lengthAdjust="spacingAndGlyphs">Spin echo intensity</text>
<text transform="translate(12.4,133.3) rotate(-90)" font-size="15" textLength="65.7" lengthAdjust="spacingAndGlyphs">(arb.units)</text>
<text transform="translate(40.9,22.8) scale(1.08,1)" font-size="14.8">FeSb<tspan font-size="8.6" dy="5.6">2</tspan></text>
<text transform="translate(41.3,45.4) scale(1.06,1)" font-size="14.8">T=4.2 K</text>
<text transform="translate(41.8,62.4) scale(1.035,1)" font-size="14.8">υ = 70 MHz</text>
<path d="M221,244.5H230.8M239,244.5H248" stroke="#444" stroke-width="1" />
<circle cx="234.8" cy="244.5" r="1.4" fill="#fff" stroke="#222" stroke-width="0.9"/>
<path d="M222,262.7H247.8" stroke="#ff0000" stroke-width="1.6"/>
<path d="M220.5,281.8H247.4" stroke="#2238f5" stroke-width="1.5"/>
<text transform="translate(251.8,249.0) scale(1.01,1)" font-size="13.5">data</text>
<text transform="translate(251.8,266.4) scale(1.0,1)" font-size="13.5">sim.<tspan font-size="8.2" dy="-7.5" stroke-width="0.1">121</tspan><tspan dy="7.5">Sb</tspan></text>
<text transform="translate(251.8,284.1) scale(1.0,1)" font-size="13.5">sim.<tspan font-size="8.2" dy="-7.5" stroke-width="0.1">121</tspan><tspan dy="7.5">Sb</tspan></text>
<text transform="translate(251.6,298.1) scale(1.012,1)" font-size="13.5">-central transition-</text>
</g></svg>
</body></html>
